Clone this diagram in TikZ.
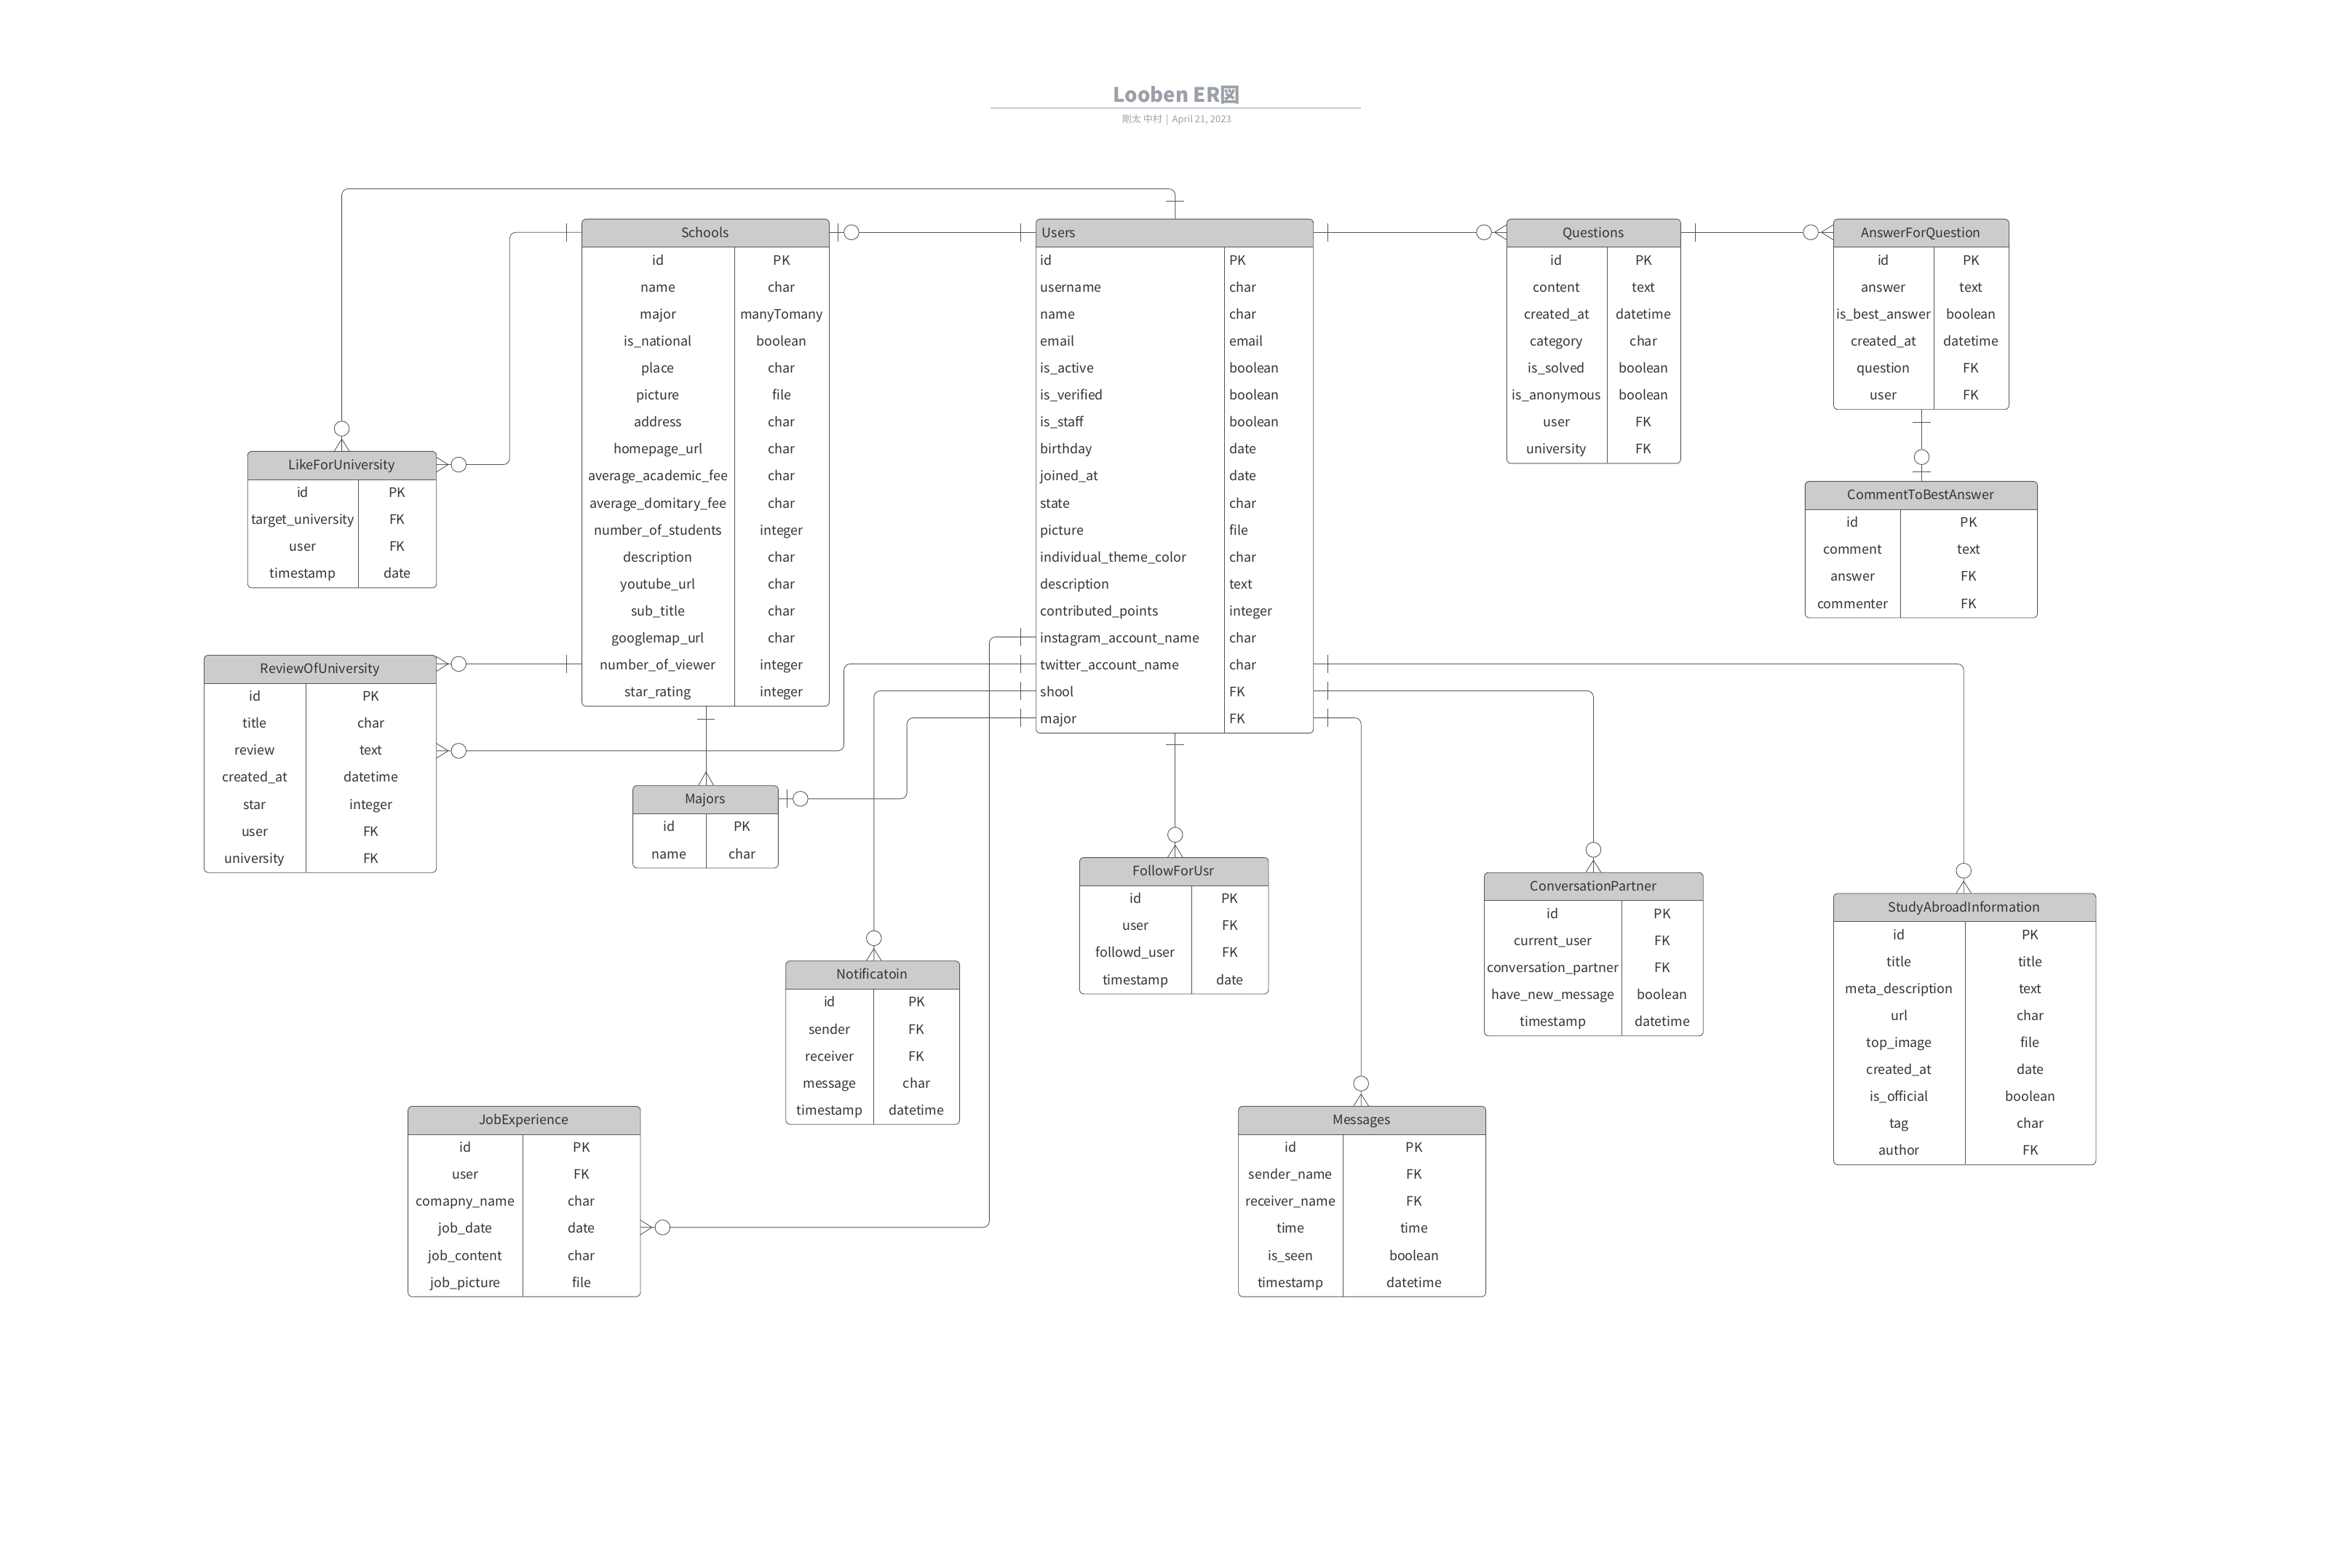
\documentclass[tikz,border=0pt]{standalone}
\usepackage{fontspec}
\setmainfont{Noto Sans CJK JP}
\definecolor{hdr}{HTML}{CCCCCC}
\definecolor{bd}{HTML}{555555}
\definecolor{tx}{HTML}{333333}
\definecolor{ttl}{HTML}{9AA0A8}
\tikzset{tab/.style={draw=bd,rounded corners=4pt,line width=0.6pt,inner sep=0pt},
 cell/.style={text=tx,font=\fontsize{12.4}{13}\selectfont,inner sep=0pt,text height=1.6ex,text depth=0.5ex},
 conn/.style={draw=bd,line width=0.6pt,rounded corners=6pt}}
% name,x1,x2,div,ytop,title,rows,n,align(0 center,1 left)
\newcommand\ertab[9]{%
 \fill[hdr,rounded corners=4pt] (#2,#5) rectangle (#3,#5+19);
 \fill[hdr] (#2,#5+10) rectangle (#3,#5+19);
 \node[tab,minimum width={(#3-#2)*0.05cm},minimum height={(19+#8*18)*0.05cm},anchor=north west] (#1) at (#2,#5) {};
 \draw[bd,line width=0.6pt] (#2,#5+19) -- (#3,#5+19);
 \draw[bd,line width=0.6pt] (#4,#5+19) -- (#4,#5+19+#8*18);
 \ifnum#9=1
  \node[cell,anchor=west] at (#2+4,#5+10.3) {#6};
  \foreach \a/\b [count=\i] in {#7} {
   \node[cell,anchor=west] at (#2+3,#5+19+\i*18-8.2) {\a};
   \node[cell,anchor=west] at (#4+3,#5+19+\i*18-8.2) {\b};}
 \else
  \node[cell] at ({(#2+#3)/2},#5+10.3) {#6};
  \foreach \a/\b [count=\i] in {#7} {
   \node[cell] at ({(#2+#4)/2},#5+19+\i*18-8.2) {\a};
   \node[cell] at ({(#4+#3)/2},#5+19+\i*18-8.2) {\b};}
 \fi}
\newcommand\tickH[2]{\draw[bd,line width=0.6pt] (#1,#2-6) -- (#1,#2+6);}
\newcommand\tickV[2]{\draw[bd,line width=0.6pt] (#1-6,#2) -- (#1+6,#2);}
\newcommand\oc[2]{\draw[bd,fill=white,line width=0.6pt] (#1,#2) circle (5);}
\newcommand\crowH[3]{\draw[bd,line width=0.6pt] (#1,#3-5) -- (#2,#3) -- (#1,#3+5);}
\newcommand\crowV[3]{\draw[bd,line width=0.6pt] (#1-5,#2) -- (#1,#3) -- (#1+5,#2);}
\begin{document}
\begin{tikzpicture}[x=0.05cm,y=-0.05cm]
\useasboundingbox (0,0) rectangle (1567.7,1046.2);
% title
\node[text=ttl,font=\fontsize{19}{20}\selectfont\bfseries] (title) at (785,63.5) {Looben ER図};
\draw[ttl,line width=0.7pt] (661,72) -- (908,72);
\node[text=ttl,font=\fontsize{9}{10}\selectfont] (sub) at (785,80) {剛太 中村 \,|\, April 21, 2023};
% tables
\ertab{Schools}{388}{553}{490}{146}{Schools}{id/PK,name/char,major/manyTomany,is\_national/boolean,place/char,picture/file,address/char,homepage\_url/char,average\_academic\_fee/char,average\_domitary\_fee/char,number\_of\_students/integer,description/char,youtube\_url/char,sub\_title/char,googlemap\_url/char,number\_of\_viewer/integer,star\_rating/integer}{17}{0}
\ertab{Users}{691}{876}{817}{146}{Users}{id/PK,username/char,name/char,email/email,is\_active/boolean,is\_verified/boolean,is\_staff/boolean,birthday/date,joined\_at/date,state/char,picture/file,individual\_theme\_color/char,description/text,contributed\_points/integer,instagram\_account\_name/char,twitter\_account\_name/char,shool/FK,major/FK}{18}{1}
\ertab{Questions}{1005}{1121}{1072}{146}{Questions}{id/PK,content/text,created\_at/datetime,category/char,is\_solved/boolean,is\_anonymous/boolean,user/FK,university/FK}{8}{0}
\ertab{Answer}{1223}{1340}{1290}{146}{AnswerForQuestion}{id/PK,answer/text,is\_best\_answer/boolean,created\_at/datetime,question/FK,user/FK}{6}{0}
\ertab{Comment}{1204}{1359}{1268}{321}{CommentToBestAnswer}{id/PK,comment/text,answer/FK,commenter/FK}{4}{0}
\ertab{Like}{165}{291}{239}{301}{LikeForUniversity}{id/PK,target\_university/FK,user/FK,timestamp/date}{4}{0}
\ertab{Review}{136}{291}{204}{437}{ReviewOfUniversity}{id/PK,title/char,review/text,created\_at/datetime,star/integer,user/FK,university/FK}{7}{0}
\ertab{Majors}{422}{519}{471}{524}{Majors}{id/PK,name/char}{2}{0}
\ertab{Follow}{720}{846}{795}{572}{FollowForUsr}{id/PK,user/FK,followd\_user/FK,timestamp/date}{4}{0}
\ertab{Conv}{990}{1136}{1082}{582}{ConversationPartner}{id/PK,current\_user/FK,conversation\_partner/FK,have\_new\_message/boolean,timestamp/datetime}{5}{0}
\ertab{Study}{1223}{1398}{1311}{596}{StudyAbroadInformation}{id/PK,title/title,meta\_description/text,url/char,top\_image/file,created\_at/date,is\_official/boolean,tag/char,author/FK}{9}{0}
\ertab{Notif}{524}{640}{583}{641}{Notificatoin}{id/PK,sender/FK,receiver/FK,message/char,timestamp/datetime}{5}{0}
\ertab{Job}{272}{427}{349}{738}{JobExperience}{id/PK,user/FK,comapny\_name/char,job\_date/date,job\_content/char,job\_picture/file}{6}{0}
\ertab{Msg}{826}{991}{896}{738}{Messages}{id/PK,sender\_name/FK,receiver\_name/FK,time/time,is\_seen/boolean,timestamp/datetime}{6}{0}
% connectors
\path[conn] (Users.north -| 784,0) -- (784,126) -- (228,126) -- (Like.north -| 228,0);
\tickV{784}{134} \crowV{228}{301}{293} \oc{228}{286}
\path[conn] (Schools.west |- 0,155) -- (340,155) -- (340,310) -- (Like.east |- 0,310);
\tickH{378}{155} \crowH{291}{299}{310} \oc{306}{310}
\path[conn] (Schools.east |- 0,155) -- (Users.west |- 0,155);
\tickH{559}{155} \oc{568}{155} \tickH{681}{155}
\path[conn] (Users.east |- 0,155) -- (Questions.west |- 0,155);
\tickH{886}{155} \crowH{1005}{997}{155} \oc{990}{155}
\path[conn] (Questions.east |- 0,155) -- (Answer.west |- 0,155);
\tickH{1131}{155} \crowH{1223}{1215}{155} \oc{1208}{155}
\path[conn] (Answer.south -| 1282,0) -- (Comment.north -| 1282,0);
\tickV{1282}{282} \oc{1282}{305} \tickV{1282}{315}
\path[conn] (Schools.west |- 0,443) -- (Review.east |- 0,443);
\tickH{378}{443} \crowH{291}{299}{443} \oc{306}{443}
\path[conn] (Users.west |- 0,443) -- (563,443) -- (563,501) -- (Review.east |- 0,501);
\tickH{681}{443} \crowH{291}{299}{501} \oc{306}{501}
\path[conn] (Schools.south -| 471,0) -- (Majors.north -| 471,0);
\tickV{471}{480} \crowV{471}{524}{515}
\path[conn] (Users.west |- 0,479) -- (605,479) -- (605,533) -- (Majors.east |- 0,533);
\tickH{681}{479} \tickH{525}{533} \oc{534}{533}
\path[conn] (Users.west |- 0,461) -- (583,461) -- (Notif.north -| 583,0);
\tickH{681}{461} \crowV{583}{641}{633} \oc{583}{626}
\path[conn] (Users.west |- 0,425) -- (660,425) -- (660,819) -- (Job.east |- 0,819);
\tickH{681}{425} \crowH{427}{435}{819} \oc{442}{819}
\path[conn] (Users.south -| 784,0) -- (Follow.north -| 784,0);
\tickV{784}{497} \crowV{784}{572}{564} \oc{784}{557}
\path[conn] (Users.east |- 0,461) -- (1063,461) -- (Conv.north -| 1063,0);
\tickH{886}{461} \crowV{1063}{582}{574} \oc{1063}{567}
\path[conn] (Users.east |- 0,443) -- (1310,443) -- (Study.north -| 1310,0);
\tickH{886}{443} \crowV{1310}{596}{588} \oc{1310}{581}
\path[conn] (Users.east |- 0,479) -- (908,479) -- (Msg.north -| 908,0);
\tickH{886}{479} \crowV{908}{738}{730} \oc{908}{723}
\end{tikzpicture}
\end{document}
